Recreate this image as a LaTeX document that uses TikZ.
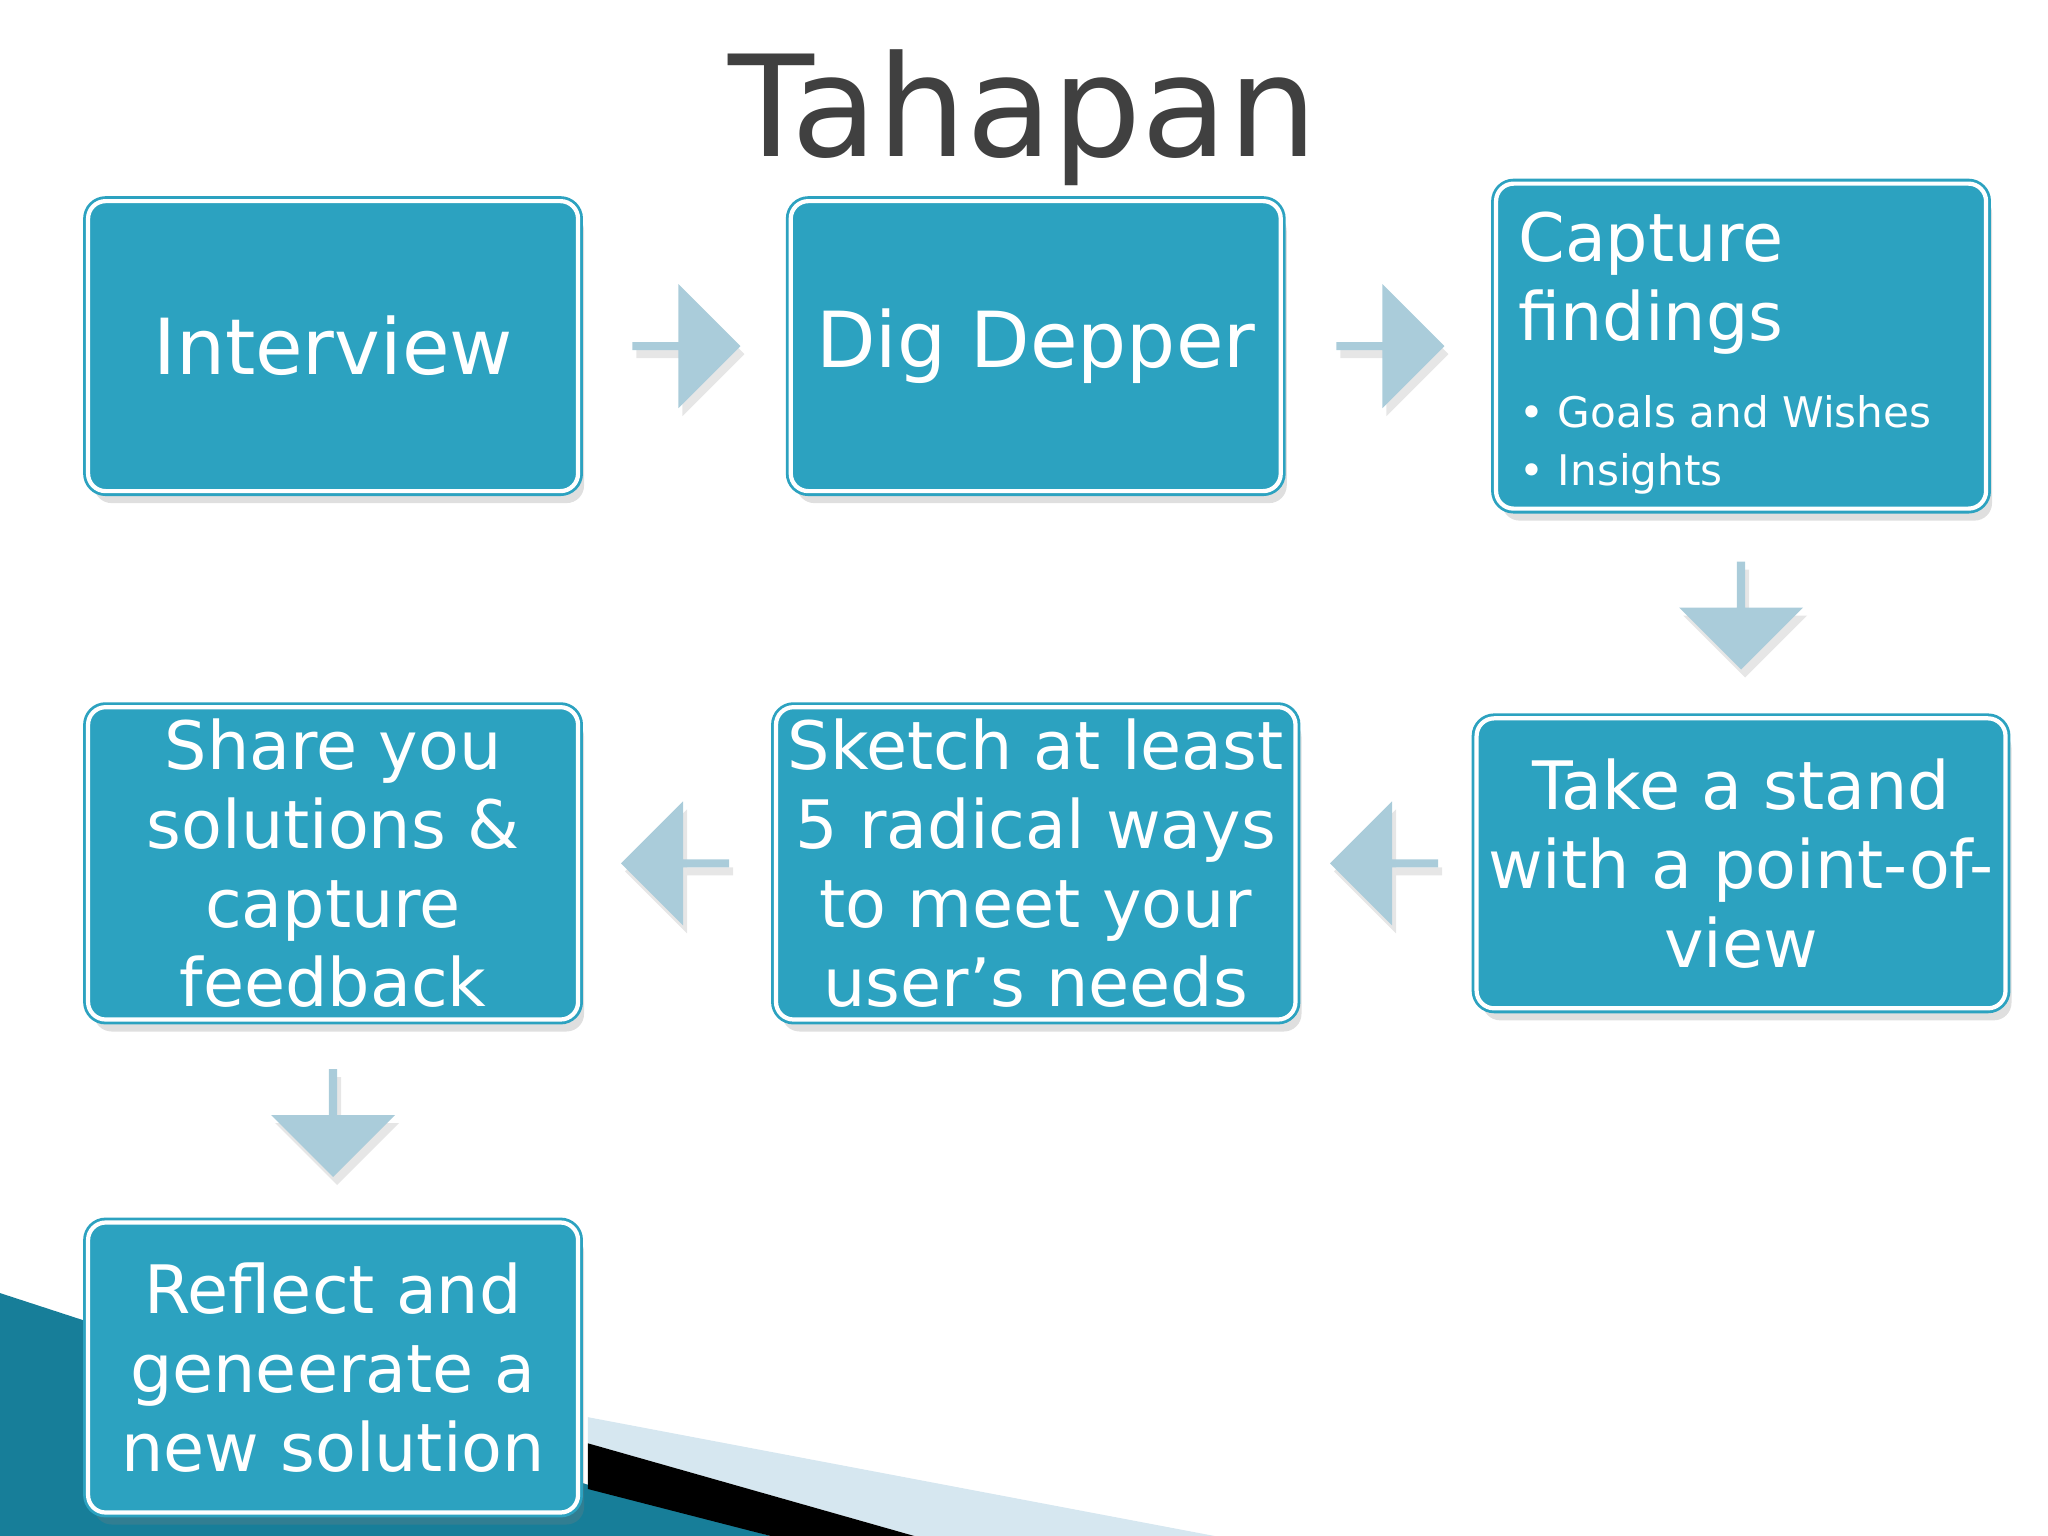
\documentclass[tikz,border=0pt]{standalone}
\usepackage{fontspec}
\setmainfont{DejaVu Sans}
\usetikzlibrary{positioning,calc,shapes.arrows,shadows}
\definecolor{boxteal}{HTML}{2CA2C0}
\definecolor{arrowblue}{HTML}{AACCDA}
\definecolor{darkteal}{HTML}{177E99}
\definecolor{paleblue}{HTML}{D6E7F0}

\begin{document}
\begin{tikzpicture}[x=0.01306cm,y=-0.01306cm,
    stage/.style={rectangle,rounded corners=5pt,fill=boxteal,draw=boxteal,
      double=white,double distance=1.2pt,line width=0.8pt,
      minimum width=4.9cm,minimum height=2.9cm,text=white,align=center,
      font=\fontsize{19}{22.5}\selectfont,
      drop shadow={opacity=0.25,shadow xshift=0.6mm,shadow yshift=-1.2mm}},
    flow/.style={single arrow,fill=arrowblue,draw=none,
      minimum height=1.08cm,minimum width=1.24cm,single arrow head extend=0.1cm,
      inner sep=0pt,
      drop shadow={opacity=0.2,shadow xshift=0.4mm,shadow yshift=-0.8mm}}]
    \useasboundingbox (0,0) rectangle (1568,1176);
    % background sweep
    \fill[darkteal] (0,990) -- (460,1140) -- (590,1176) -- (0,1176) -- cycle;
    \fill[paleblue] (450,1085) -- (930,1176) -- (700,1176) -- (450,1105) -- cycle;
    \fill[black] (450,1105) -- (700,1176) -- (590,1176) -- (450,1140) -- cycle;

    \node[font=\fontsize{40}{44}\selectfont,text=black!75] (title) at (783,90) {Tahapan};

    \node[stage,font=\fontsize{22}{26}\selectfont] (interview) at (255,265) {Interview};
    \node[stage,font=\fontsize{22}{26}\selectfont] (dig)       at (793,265) {Dig Depper};
    \node[stage,minimum height=3.25cm]             (capture)   at (1333,265) {};
    \node[stage] (stand)   at (1333,661) {Take a stand\\with a point-of-\\view};
    \node[stage] (sketch)  at (793,661)  {Sketch at least\\5 radical ways\\to meet your\\user’s needs};
    \node[stage] (share)   at (255,661)  {Share you\\solutions \&\\capture\\feedback};
    \node[stage] (reflect) at (255,1047) {Reflect and\\geneerate a\\new solution};

    \node[text=white,anchor=north west,align=left,inner sep=0pt,
      font=\fontsize{19}{22.5}\selectfont] (capturetext) at (1162,162)
      {Capture\\findings};
    \node[text=white,anchor=north west,align=left,inner sep=0pt,
      font=\fontsize{12}{16.5}\selectfont] (capturelist) at (1163,302)
      {\textbullet\ Goals and Wishes\\\textbullet\ Insights};

    \node[flow] (a1) at ($(interview.east)!0.5!(dig.west)$) {};
    \node[flow] (a2) at ($(dig.east)!0.5!(capture.west)$) {};
    \node[flow,rotate=-90] (a3) at ($(capture.south)!0.5!(stand.north)$) {};
    \node[flow,rotate=180] (a4) at ($(stand.west)!0.5!(sketch.east)$) {};
    \node[flow,rotate=180] (a5) at ($(sketch.west)!0.5!(share.east)$) {};
    \node[flow,rotate=-90] (a6) at ($(share.south)!0.5!(reflect.north)$) {};
\end{tikzpicture}
\end{document}
